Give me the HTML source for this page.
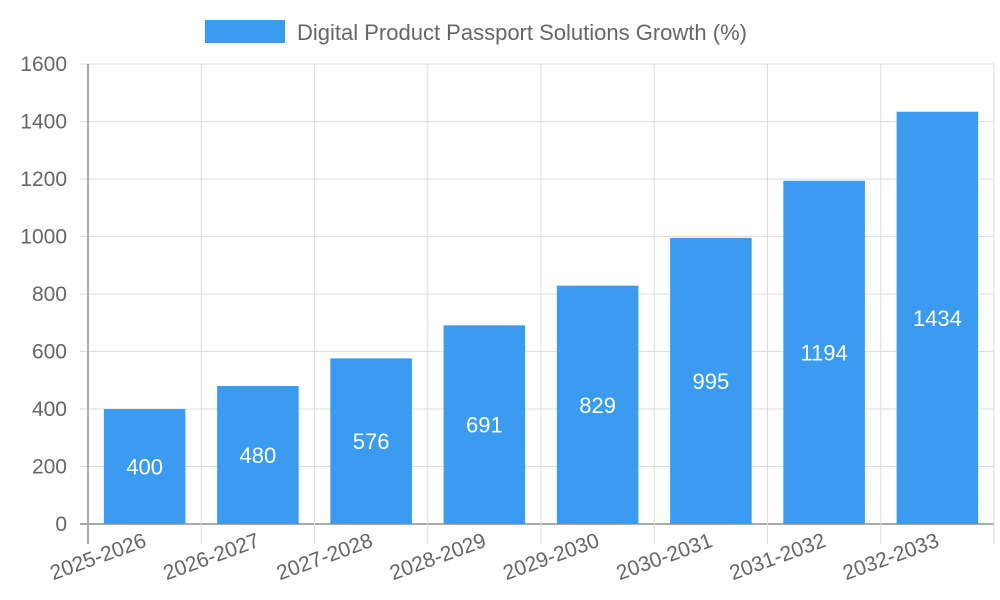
<!DOCTYPE html>
<html><head><meta charset="utf-8"><style>
html,body{margin:0;padding:0;background:#fff;}
svg{display:block;font-family:"Liberation Sans",sans-serif;}
</style></head><body>
<svg id="chart" width="1000" height="600">
<g id="grid"></g><g id="bars"></g><g id="labels"></g>
<g>
<rect x="205" y="20" width="80" height="23" fill="#3a9bf0"/>
<text x="297" y="40" font-size="22" fill="#666">Digital Product Passport Solutions Growth (%)</text>
</g>
</svg>
<script>
const categories=["2025-2026","2026-2027","2027-2028","2028-2029","2029-2030","2030-2031","2031-2032","2032-2033"];
const values=[400,480,576,691,829,995,1194,1434];
const yTicks=[0,200,400,600,800,1000,1200,1400,1600];
const NS="http://www.w3.org/2000/svg";
const L=88,R=994,T=64,B=524,yMax=1600;
const bw=(R-L)/categories.length;
const y=v=>B-(v/yMax)*(B-T);
const x=i=>L+bw*i;
function mk(tag,attrs,parent){const e=document.createElementNS(NS,tag);for(const k in attrs)e.setAttribute(k,attrs[k]);document.getElementById(parent).appendChild(e);return e;}
yTicks.forEach(t=>{
 const l=mk('line',{x1:80,x2:R,y1:y(t),y2:y(t),stroke:t===0?'#aaa':'#ddd','stroke-width':t===0?2:1},'grid');
 
 
 const tx=mk('text',{x:67,y:y(t)+7,'text-anchor':'end','font-size':21,fill:'#666'},'grid');
 tx.textContent=t;
 
 
});
for(let i=0;i<=categories.length;i++){
 const l=mk('line',{x1:x(i),x2:x(i),y1:T,y2:544,stroke:i===0?'#aaa':'#ddd','stroke-width':i===0?2:1},'grid');
 
 
}
categories.forEach((c,i)=>{
 const cx=x(i)+bw/2, w=bw*0.72;
 const r=mk('rect',{x:cx-w/2,y:y(values[i]),width:w,height:B-y(values[i]),fill:'#3a9bf0'},'bars');
 
 
 const v=mk('text',{x:cx,y:(y(values[i])+B)/2+8,'text-anchor':'middle','font-size':22,fill:'#fff'},'labels');
 v.textContent=values[i];
 
 
 const lx=cx+3, ly=546;
 const t=mk('text',{x:lx,y:ly,'text-anchor':'end','font-size':21,fill:'#666',transform:`rotate(-20 ${lx} ${ly})`},'labels');
 t.textContent=c;
 
 
});
</script>
</body></html>
